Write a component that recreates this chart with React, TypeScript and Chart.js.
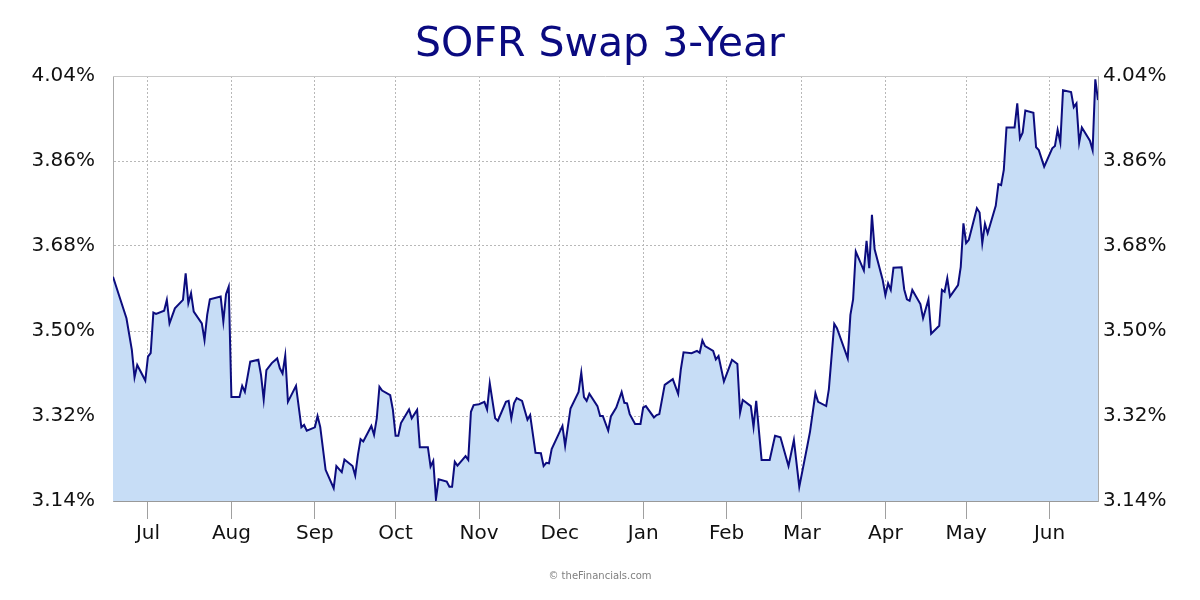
import React, { useEffect, useRef } from "react";
import { Chart, registerables } from "chart.js";

Chart.register(...registerables);

// Day 0 = first observation (2024-06-18)
const START_DATE = "2024-06-18";
const LAST_DAY = 366;

const dayIndex = [
  0, 5, 7, 8, 9, 12, 13, 14, 15, 16, 19, 20, 21, 23, 26, 27, 28, 29, 30, 33,
  34, 35, 36, 40, 41, 42, 43, 44, 47, 48, 49, 51, 54, 55, 56, 57, 59, 61, 62, 63,
  64, 65, 68, 70, 71, 72, 75, 76, 77, 79, 82, 83, 85, 86, 89, 90, 91, 92, 93, 96,
  97, 98, 99, 100, 103, 104, 105, 106, 107, 110, 111, 113, 114, 117, 118, 119, 120, 121, 124, 125,
  126, 127, 128, 131, 132, 133, 134, 136, 138, 139, 140, 142, 143, 146, 147, 148, 149, 150, 152, 154,
  155, 157, 159, 160, 161, 162, 163, 167, 168, 170, 173, 174, 175, 176, 177, 180, 181, 182, 184, 185,
  187, 189, 190, 191, 192, 194, 196, 197, 198, 201, 202, 203, 205, 208, 210, 211, 212, 215, 217, 218,
  219, 220, 223, 224, 225, 227, 230, 232, 233, 234, 237, 238, 239, 241, 244, 246, 248, 251, 253, 255,
  258, 259, 261, 262, 265, 266, 268, 269, 273, 274, 275, 276, 279, 280, 281, 282, 283, 286, 287, 288,
  289, 290, 293, 294, 295, 296, 297, 300, 301, 303, 304, 307, 308, 309, 310, 311, 314, 315, 316, 317,
  318, 321, 322, 323, 324, 325, 328, 329, 330, 331, 332, 335, 336, 337, 338, 339, 342, 343, 344, 346,
  349, 350, 351, 352, 353, 356, 357, 358, 359, 360, 363, 364, 365, 366,
];

const rates = [
  3.615, 3.527, 3.460, 3.402, 3.428, 3.395, 3.446, 3.453, 3.539, 3.536, 3.543, 3.566, 3.516, 3.548, 3.566, 3.622, 3.559, 3.580, 3.541, 3.516,
  3.481, 3.534, 3.567, 3.573, 3.520, 3.578, 3.594, 3.360, 3.360, 3.384, 3.371, 3.435, 3.439, 3.407, 3.355, 3.417, 3.432, 3.442, 3.421, 3.410,
  3.448, 3.350, 3.384, 3.296, 3.301, 3.289, 3.296, 3.320, 3.297, 3.206, 3.167, 3.214, 3.201, 3.228, 3.214, 3.194, 3.237, 3.271, 3.266, 3.299,
  3.280, 3.315, 3.382, 3.374, 3.364, 3.333, 3.278, 3.278, 3.305, 3.334, 3.315, 3.333, 3.254, 3.254, 3.213, 3.225, 3.144, 3.186, 3.181, 3.170,
  3.170, 3.223, 3.215, 3.235, 3.227, 3.329, 3.343, 3.345, 3.350, 3.334, 3.389, 3.315, 3.310, 3.350, 3.352, 3.315, 3.347, 3.358, 3.352, 3.312,
  3.322, 3.242, 3.241, 3.214, 3.221, 3.220, 3.250, 3.299, 3.257, 3.336, 3.371, 3.412, 3.360, 3.352, 3.367, 3.341, 3.320, 3.320, 3.289, 3.319,
  3.338, 3.371, 3.348, 3.347, 3.324, 3.303, 3.303, 3.338, 3.341, 3.317, 3.322, 3.324, 3.386, 3.398, 3.367, 3.419, 3.455, 3.453, 3.458, 3.454,
  3.480, 3.468, 3.458, 3.440, 3.447, 3.393, 3.439, 3.430, 3.327, 3.354, 3.341, 3.297, 3.352, 3.227, 3.227, 3.278, 3.275, 3.214, 3.269, 3.170,
  3.257, 3.287, 3.368, 3.350, 3.341, 3.377, 3.515, 3.506, 3.442, 3.534, 3.567, 3.668, 3.628, 3.691, 3.633, 3.746, 3.673, 3.608, 3.576, 3.601,
  3.587, 3.634, 3.635, 3.588, 3.567, 3.564, 3.587, 3.557, 3.527, 3.567, 3.494, 3.511, 3.587, 3.583, 3.612, 3.573, 3.597, 3.636, 3.728, 3.686,
  3.693, 3.760, 3.751, 3.686, 3.727, 3.707, 3.765, 3.811, 3.809, 3.841, 3.931, 3.931, 3.982, 3.908, 3.920, 3.967, 3.962, 3.889, 3.883, 3.848,
  3.887, 3.892, 3.926, 3.899, 4.010, 4.006, 3.974, 3.982, 3.899, 3.931, 3.903, 3.883, 4.033, 3.989,
];

const monthLabels = ["Jul", "Aug", "Sep", "Oct", "Nov", "Dec", "Jan", "Feb", "Mar", "Apr", "May", "Jun"];
const monthStarts = [
  "2024-07-01", "2024-08-01", "2024-09-01", "2024-10-01", "2024-11-01", "2024-12-01",
  "2025-01-01", "2025-02-01", "2025-03-01", "2025-04-01", "2025-05-01", "2025-06-01",
];
const yTicks = [3.14, 3.32, 3.5, 3.68, 3.86, 4.04];

const daysSince = (start: string, d: string) =>
  Math.round((Date.parse(d + "T00:00:00Z") - Date.parse(start + "T00:00:00Z")) / 86400000);

const monthTickDays = monthStarts.map((d) => daysSince(START_DATE, d));

const TICK_FONT = "'DejaVu Sans', Verdana, sans-serif";
const TITLE_FONT = "'DejaVu Sans', Verdana, sans-serif";

const framePlugin = {
  id: "frameTop",
  afterDatasetsDraw(chart: any) {
    const { ctx, chartArea } = chart;
    ctx.save();
    ctx.strokeStyle = "#c8c8c8";
    ctx.lineWidth = 1;
    ctx.beginPath();
    ctx.moveTo(chartArea.left, chartArea.top + 0.5);
    ctx.lineTo(chartArea.right, chartArea.top + 0.5);
    ctx.stroke();
    ctx.restore();
  },
};

export default function App() {
  const canvasRef = useRef<HTMLCanvasElement | null>(null);

  useEffect(() => {
    const canvas = canvasRef.current;
    if (!canvas) return;
    const yTickBuilder = (s: any) => {
      s.ticks = yTicks.map((v) => ({ value: v }));
    };
    const chart = new Chart(canvas, {
      type: "line",
      data: {
        datasets: [
          {
            data: dayIndex.map((d, i) => ({ x: d, y: rates[i] })),
            borderColor: "#0c0c7e",
            borderWidth: 2,
            backgroundColor: "#c7ddf6",
            fill: "start",
            pointRadius: 0,
            tension: 0,
          },
        ],
      },
      options: {
        animation: false,
        responsive: false,
        layout: { padding: 0 },
        plugins: {
          legend: { display: false },
          tooltip: { enabled: false },
          title: {
            display: true,
            text: "SOFR Swap 3-Year",
            color: "#0a0a80",
            font: { family: TITLE_FONT, size: 41, weight: "normal", lineHeight: 1.2 },
            padding: { top: 21, bottom: 5.8 },
          },
          subtitle: {
            display: true,
            position: "bottom",
            text: "© theFinancials.com",
            color: "#808080",
            font: { family: TITLE_FONT, size: 10, weight: "normal", lineHeight: 1.2 },
            padding: { top: 9, bottom: 18 },
          },
        },
        scales: {
          x: {
            type: "linear",
            min: 0,
            max: LAST_DAY,
            afterBuildTicks: (s: any) => {
              s.ticks = monthTickDays.map((v) => ({ value: v }));
            },
            afterFit: (s: any) => {
              s.height = 60;
            },
            ticks: {
              autoSkip: false,
              maxRotation: 0,
              padding: 3,
              color: "#111",
              font: { family: TICK_FONT, size: 20 },
              callback: (_v: any, i: number) => monthLabels[i],
            },
            grid: {
              color: "#b8b8b8",
              lineWidth: 1,
              tickColor: "#a0a0a0",
              tickLength: 18,
              tickBorderDash: [],
            },
            border: { color: "#999", dash: [2, 2] },
          },
          y: {
            position: "left",
            min: 3.14,
            max: 4.04,
            afterBuildTicks: yTickBuilder,
            afterFit: (s: any) => {
              s.width = 113;
            },
            ticks: {
              padding: 18,
              color: "#111",
              font: { family: TICK_FONT, size: 20 },
              callback: (v: any) => Number(v).toFixed(2) + "%",
            },
            grid: { color: "#b8b8b8", lineWidth: 1, drawTicks: false },
            border: { color: "#aaa", dash: [2, 2] },
          },
          y2: {
            position: "right",
            min: 3.14,
            max: 4.04,
            afterBuildTicks: yTickBuilder,
            afterFit: (s: any) => {
              s.width = 102;
            },
            ticks: {
              padding: 5,
              color: "#111",
              font: { family: TICK_FONT, size: 20 },
              callback: (v: any) => Number(v).toFixed(2) + "%",
            },
            grid: { drawOnChartArea: false, drawTicks: false },
            border: { color: "#aaa" },
          },
        },
      },
      plugins: [framePlugin],
    } as any);
    return () => chart.destroy();
  }, []);

  return (
    <div style={{ position: "fixed", left: 0, top: 0, width: 1200, height: 600, background: "#fff" }}>
      <canvas ref={canvasRef} width={1200} height={600} style={{ display: "block", width: 1200, height: 600 }} />
    </div>
  );
}
